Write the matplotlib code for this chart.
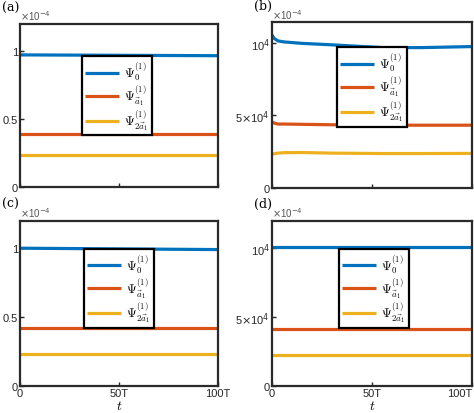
import numpy as np
import matplotlib
matplotlib.use("Agg")
import matplotlib.pyplot as plt

plt.rcParams['font.family'] = ['Liberation Sans', 'DejaVu Sans']
plt.rcParams['mathtext.fontset'] = 'cm'

# Datos (en unidades de 1e-4)
t_flat = [0, 100]
psi0_a = [0.973, 0.967]
psia1_a = [0.395, 0.395]
psi2a1_a = [0.234, 0.234]

t_b = [0, 1, 3, 6, 15, 30, 55, 75, 100]
psi0_b = [1.052, 1.03, 1.012, 1.005, 0.995, 0.985, 0.966, 0.966, 0.973]
psia1_b = [0.455, 0.447, 0.44, 0.44, 0.438, 0.435, 0.432, 0.432, 0.432]
psi2a1_b = [0.232, 0.235, 0.24, 0.243, 0.244, 0.24, 0.237, 0.237, 0.238]

psi0_c = [1.0, 0.99]
psia1_c = [0.42, 0.42]
psi2a1_c = [0.227, 0.227]

psi0_d = [1.01, 1.01]
psia1_d = [0.415, 0.415]
psi2a1_d = [0.225, 0.225]

labels = [r'$\Psi_0^{(1)}$', r'$\Psi_{\vec{a}_1}^{(1)}$', r'$\Psi_{2\vec{a}_1}^{(1)}$']
colors = ['#0072BD', '#D95319', '#EDB120']
yticks_left = ['0', '0.5', '1']
yticks_right = ['0', r'5$\times$10$^4$', r'10$^4$']
xticks = ['0', '50T', '100T']

W, H = 474, 414
fig = plt.figure(figsize=(W / 100, H / 100), dpi=100)


def make_ax(left, right, top, bottom):
    return fig.add_axes([left / W, 1 - bottom / H, (right - left) / W, (bottom - top) / H])


paneles = [
    ('(a)', make_ax(20, 218, 25, 188.3), [t_flat] * 3, [psi0_a, psia1_a, psi2a1_a], 1.2, yticks_left, False, (0.49, 0.56)),
    ('(b)', make_ax(272, 472, 23.3, 189), [t_b] * 3, [psi0_b, psia1_b, psi2a1_b], 1.14, yticks_right, False, (0.5, 0.61)),
    ('(c)', make_ax(20, 218, 221.7, 386.7), [t_flat] * 3, [psi0_c, psia1_c, psi2a1_c], 1.2, yticks_left, True, (0.5, 0.59)),
    ('(d)', make_ax(272, 472, 221.7, 386.7), [t_flat] * 3, [psi0_d, psia1_d, psi2a1_d], 1.2, yticks_right, True, (0.51, 0.59)),
]

for name, ax, xs, ys, ytop, ytl, show_x, legpos in paneles:
    for x, y, c, lab in zip(xs, ys, colors, labels):
        ax.plot(x, y, color=c, lw=2.3, label=lab, solid_capstyle='butt')
    ax.set_xlim(0, 100)
    ax.set_ylim(0, ytop)
    ax.set_xticks([0, 50, 100])
    ax.set_yticks([0, 0.5, 1.0])
    ax.set_yticklabels(ytl)
    for lbl in ax.get_yticklabels():
        lbl.set_math_fontfamily('dejavusans')
    if show_x:
        ax.set_xticklabels(xticks)
        ax.set_xlabel(r'$t$', fontsize=10, labelpad=0)
    else:
        ax.set_xticklabels([])
    ax.tick_params(direction='in', length=3, width=1, labelsize=8, colors='#262626', pad=1.5)
    for sp in ax.spines.values():
        sp.set_color('#2a2a2a')
        sp.set_linewidth(1.6)
    # exponente
    ax.text(0.0, 1.01, r'$\times$10$^{-4}$', transform=ax.transAxes, fontsize=7,
            color='#555555', ha='left', va='bottom', math_fontfamily='dejavusans')
    # etiqueta del panel
    bb = ax.get_position()
    fig.text(bb.x0 - 18 / W, bb.y1 + 17 / H, name, fontsize=9, family='DejaVu Serif',
             ha='left', va='center')
    leg = ax.legend(loc='center', bbox_to_anchor=legpos, fontsize=9, frameon=True,
                    fancybox=False, edgecolor='black', framealpha=1, handlelength=2.7,
                    labelspacing=0.0, borderpad=0.3, handletextpad=0.4, borderaxespad=0)
    leg.get_frame().set_linewidth(1.6)

# el ultimo rotulo del panel (d) queda pegado al borde
paneles[3][1].get_xticklabels()[-1].set_horizontalalignment('right')

plt.savefig('out.png', dpi=100)
